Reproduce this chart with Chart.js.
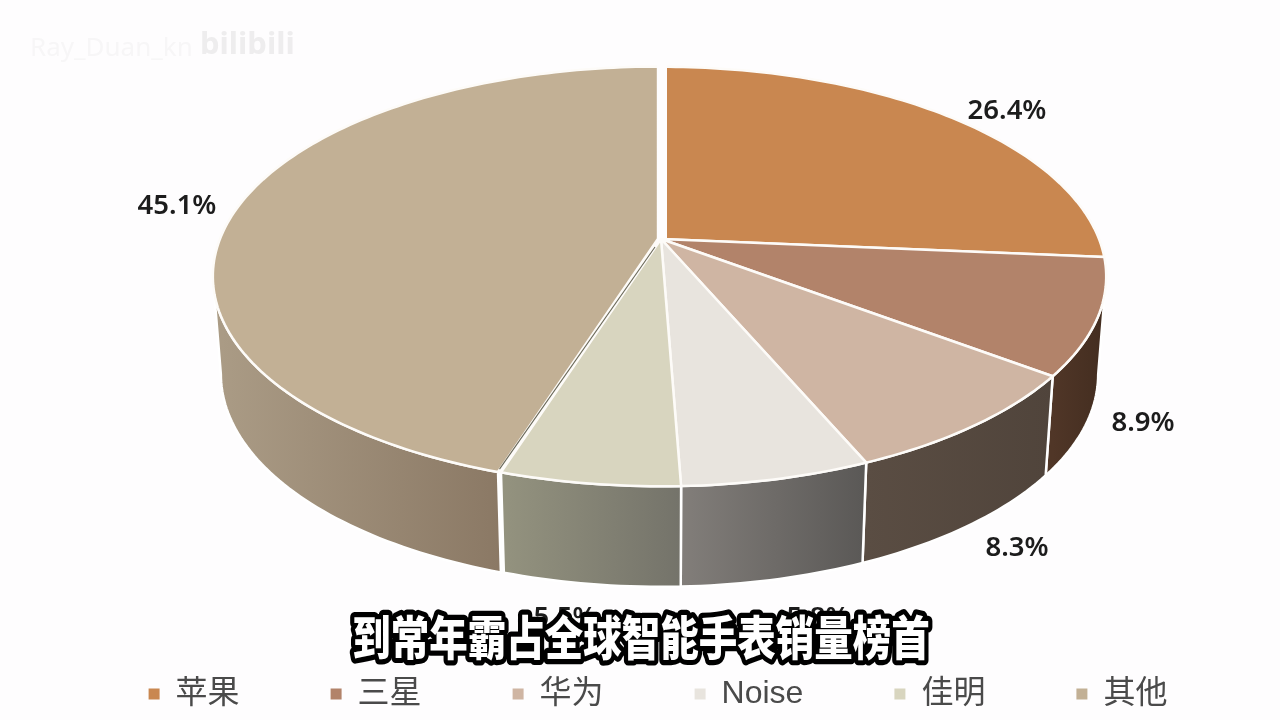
<!DOCTYPE html>
<html><head><meta charset="utf-8">
<style>html,body{margin:0;padding:0;background:#fefdfe;overflow:hidden}
#box{width:1280px;height:720px;position:relative}
canvas{filter:blur(0.5px)}</style>
<script src="https://cdn.jsdelivr.net/npm/chart.js@4/dist/chart.umd.min.js"></script>
</head><body><div id="box"><canvas id="c" width="1280" height="720"></canvas></div>
<script>
const categories = ['苹果','三星','华为','Noise','佳明','其他'];
const shares = [26.4, 8.9, 8.3, 5.8, 5.5, 45.1];
const explode = [0, 0, 0, 0, 0, 3];
const topColors = ['#c98750','#b2836a','#cfb5a3','#e8e4de','#d8d5bf','#c2b095'];
const wallLight = ['#8f5f38','#503627','#5a4d43','#827e7a','#94937f','#ab9c86'];
const wallDark  = ['#7d5230','#432d20','#50443b','#5a5856','#74736a','#8b7965'];
const caption = '到常年霸占全球智能手表销量榜首';

// oblique perspective view of the pie, fitted to the picture
const view = {cx:661, cy:239, rx:438, ry:203, k:0.179, shrink:0.982, depth:97, depthFront:8, gapLeft:657, gapRight:667};
function project(a, off, lower){
  const X=Math.cos(a), Y=Math.sin(a), w=1/(1-view.k*Y);
  const s=lower?view.shrink:1;
  return {x:view.cx+off.x+view.rx*X*w*s,
          y:view.cy+off.y+view.ry*Y*w*s+(lower?view.depth+view.depthFront*Y:0)};
}
function outline(ctx,a0,a1,off,lower,reverse){
  const n=Math.max(8,Math.ceil((a1-a0)/0.02));
  for(let i=0;i<=n;i++){
    const t=reverse?1-i/n:i/n, p=project(a0+(a1-a0)*t,off,lower);
    ctx.lineTo(p.x,p.y);
  }
}
const pie3d = {
  id:'pie3d',
  beforeDatasetsDraw(chart){
    const ctx=chart.ctx, arcs=chart.getDatasetMeta(0).data;
    const items=arcs.map((arc,i)=>{
      const mid=(arc.startAngle+arc.endAngle)/2, o=arc.options.offset||0;
      return {i,a0:arc.startAngle,a1:arc.endAngle,mid,
              off:{x:Math.cos(mid)*o,y:Math.sin(mid)*o*view.ry/view.rx}};
    });
    const edge=Math.asin(view.k);
    ctx.save();
    ctx.lineJoin='round';
    // side walls: only the arc facing the viewer, back to front
    [...items].sort((p,q)=>Math.sin(p.mid)-Math.sin(q.mid)).forEach(s=>{
      const a0=Math.max(s.a0,edge), a1=Math.min(s.a1,Math.PI-edge);
      if(a0>=a1) return;
      const pa=project(a0,s.off,false), pb=project(a1,s.off,false);
      const g=ctx.createLinearGradient(Math.min(pa.x,pb.x),0,Math.max(pa.x,pb.x),0);
      g.addColorStop(0,wallLight[s.i]); g.addColorStop(1,wallDark[s.i]);
      ctx.beginPath();
      outline(ctx,a0,a1,s.off,false,false);
      outline(ctx,a0,a1,s.off,true,true);
      ctx.closePath();
      ctx.fillStyle=g; ctx.fill();
      ctx.strokeStyle='#ffffff'; ctx.lineWidth=2.5; ctx.stroke();
    });
    // top faces
    items.forEach(s=>{
      ctx.save();
      if(s.i===0){ctx.beginPath();ctx.rect(view.gapRight,0,1280,720);ctx.clip();}
      if(s.i===5){ctx.beginPath();ctx.rect(0,0,view.gapLeft,720);ctx.clip();}
      ctx.beginPath();
      ctx.moveTo(view.cx+s.off.x,view.cy+s.off.y);
      outline(ctx,s.a0,s.a1,s.off,false,false);
      ctx.closePath();
      ctx.fillStyle=topColors[s.i]; ctx.fill();
      ctx.strokeStyle='#fdfbf8'; ctx.lineWidth=2.5; ctx.stroke();
      ctx.restore();
    });
    // sliver of dark inner face between the 佳明 and 其他 slices
    const g=items[4], h=items[5], e=project(g.a1,g.off,false), f=project(h.a0,h.off,false);
    ctx.beginPath();
    ctx.moveTo(view.cx-6,view.cy+8);
    ctx.lineTo((e.x+f.x)/2,(e.y+f.y)/2-3);
    ctx.strokeStyle='#6a6858'; ctx.lineWidth=1.1; ctx.stroke();
    ctx.restore();
    return false;
  },
  afterDraw(chart){
    const ctx=chart.ctx;
    ctx.save();
    // percentage labels
    const spots=[[1007,111],[1143,423],[1017,548],[818,618],[565,618],[177,206]];
    ctx.font='600 27.5px "Noto Sans","Noto Sans CJK SC"';
    ctx.fillStyle='#1c1c1c'; ctx.textAlign='center'; ctx.textBaseline='middle';
    shares.forEach((v,i)=>ctx.fillText(v.toFixed(1)+'%',spots[i][0],spots[i][1]));
    // watermark
    ctx.textAlign='left';
    ctx.font='26px "Noto Sans"'; ctx.fillStyle='#f7f6f7';
    ctx.fillText('Ray_Duan_kn',30,49);
    ctx.font='bold 31px "Noto Sans"'; ctx.fillStyle='#eeedee';
    ctx.fillText('bilibili',200,45);
    // caption
    ctx.textAlign='center';
    ctx.translate(641,637); ctx.scale(1,1.22);
    ctx.font='900 38.5px "Noto Sans CJK SC"';
    ctx.lineJoin='round'; ctx.lineWidth=8.5; ctx.strokeStyle='#000';
    ctx.strokeText(caption,0,0);
    ctx.fillStyle='#fff'; ctx.fillText(caption,0,0);
    ctx.restore();
  }
};
new Chart(document.getElementById('c'),{
  type:'pie',
  data:{labels:categories,datasets:[{data:shares,backgroundColor:topColors,offset:explode,borderWidth:0}]},
  plugins:[pie3d],
  options:{
    responsive:false,animation:false,devicePixelRatio:1,
    layout:{padding:{left:36,bottom:0}},
    plugins:{
      tooltip:{enabled:false},
      title:{display:false},
      legend:{display:true,position:'bottom',
        labels:{boxWidth:11,boxHeight:11,padding:91,color:'#4a4a4a',
          font:{size:32,family:'"Liberation Sans","Noto Sans CJK SC"'}}}
    }
  }
});
</script></body></html>
